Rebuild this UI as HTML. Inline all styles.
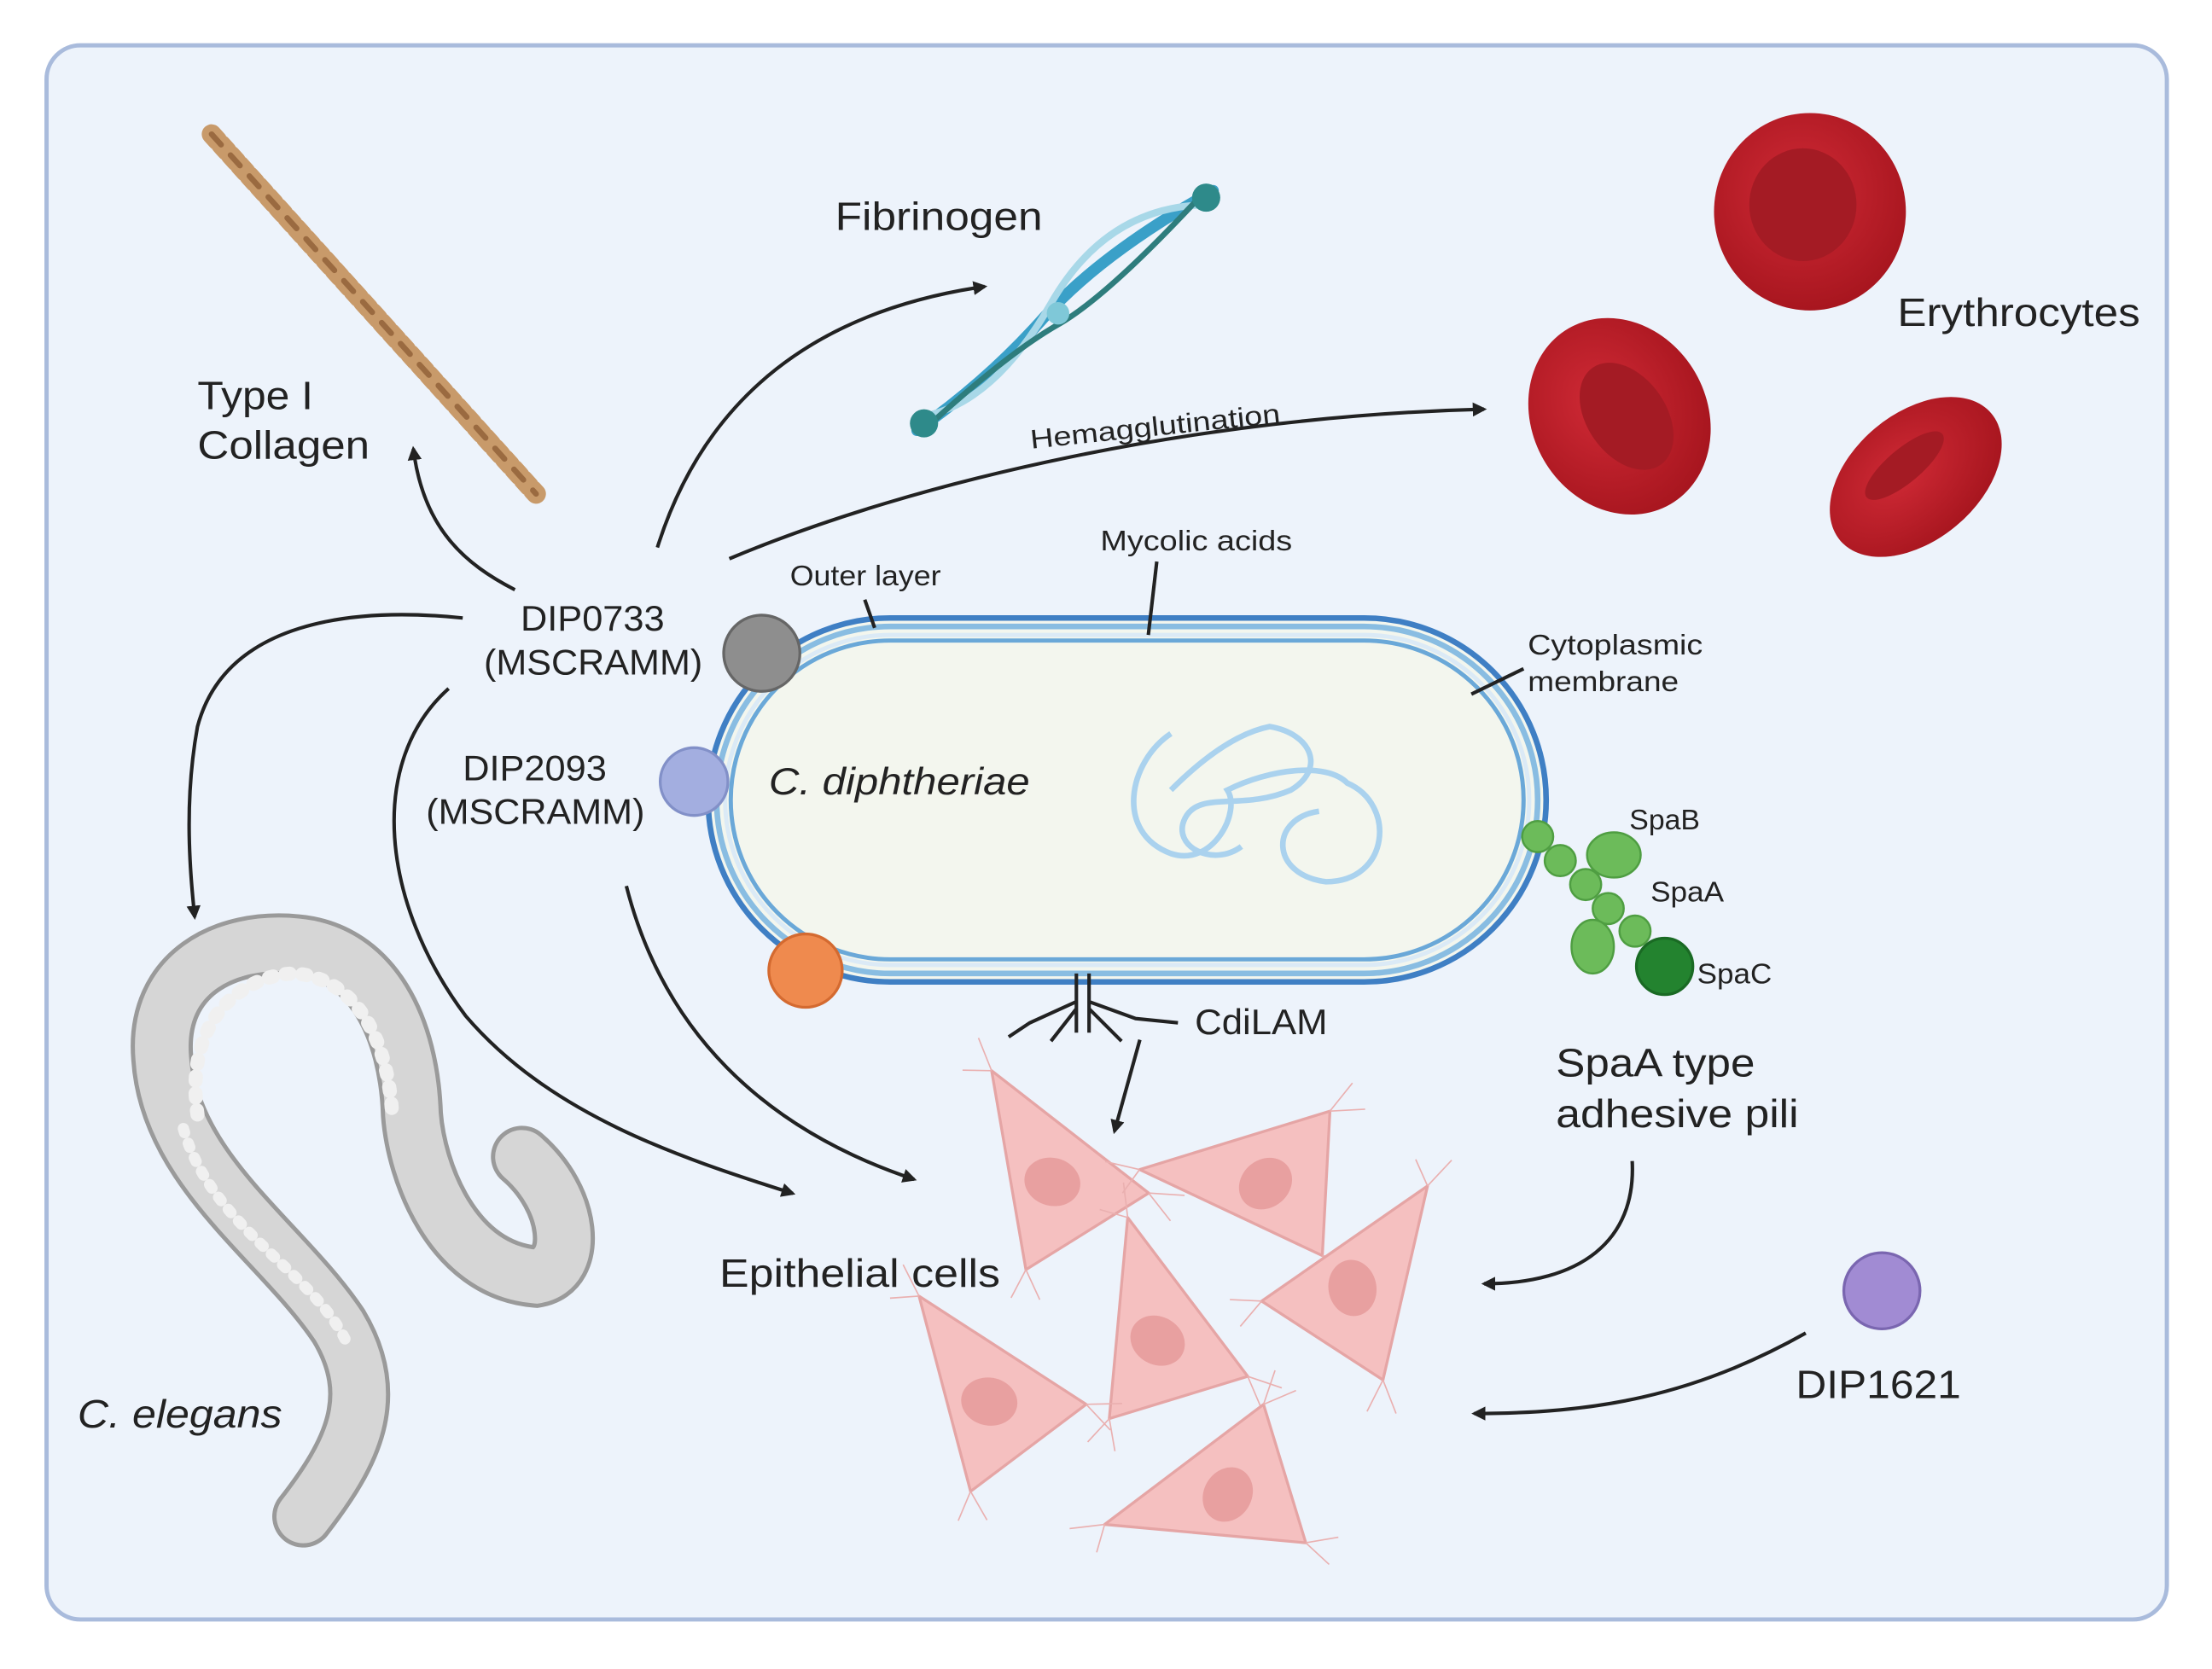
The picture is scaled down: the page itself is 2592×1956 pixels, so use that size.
<!DOCTYPE html>
<html><head><meta charset="utf-8"><style>
html,body{margin:0;padding:0;background:#fff;}
svg{display:block;}
text{font-family:"Liberation Sans",sans-serif;fill:#222;}
</style></head><body>
<svg width="2592" height="1956" viewBox="0 0 1568 1183" xmlns="http://www.w3.org/2000/svg">
<defs>
<marker id="ah" markerWidth="10" markerHeight="10" refX="8" refY="5" orient="auto" markerUnits="userSpaceOnUse" viewBox="0 0 10 10"><path d="M0,0 L10,5 L0,10 Z" fill="#222"/></marker>
<radialGradient id="rbc" cx="0.45" cy="0.4" r="0.6"><stop offset="0" stop-color="#d02a36"/><stop offset="1" stop-color="#a8161f"/></radialGradient>
<g id="cell">
<path d="M-70,-60 L60,-5 L-10,70 Z" fill="#f5c0c0" stroke="#e5a5a5" stroke-width="2" stroke-linejoin="round"/>
<ellipse cx="-8" cy="5" rx="20" ry="17" fill="#e8a0a0"/>
<g stroke="#eab0b0" stroke-width="1"><line x1="-70" y1="-60" x2="-85" y2="-80"/><line x1="-70" y1="-60" x2="-90" y2="-55"/><line x1="60" y1="-5" x2="85" y2="-10"/><line x1="60" y1="-5" x2="80" y2="10"/><line x1="-10" y1="70" x2="-15" y2="92"/><line x1="-10" y1="70" x2="5" y2="88"/></g>
</g>
</defs>
<rect x="33" y="32" width="1503" height="1116" rx="24" fill="#edf3fb" stroke="#a9bbdc" stroke-width="3"/>

<!-- collagen -->
<g fill="none" stroke-linecap="round">
<path d="M150,95 L380,350" stroke="#c89a6a" stroke-width="14" stroke-dasharray="6 4"/>
<path d="M150,95 L380,350" stroke="#9a6a40" stroke-width="4" stroke-dasharray="10 10"/>
</g>
<!-- fibrinogen -->
<g fill="none" stroke-linecap="round">
<path d="M650,305 Q700,270 740,225 T860,135" stroke="#3aa0c8" stroke-width="8"/>
<path d="M655,295 Q705,285 745,215 T858,145" stroke="#a8d8e8" stroke-width="5"/>
<path d="M660,300 Q715,250 750,230 T850,140" stroke="#2e7d7d" stroke-width="4"/>
</g>
<circle cx="655" cy="300" r="10" fill="#2e8a8a"/><circle cx="855" cy="140" r="10" fill="#2e8a8a"/><circle cx="750" cy="222" r="8" fill="#7fc8d8"/>
<!-- RBCs -->
<ellipse cx="1283" cy="150" rx="68" ry="70" fill="url(#rbc)"/><ellipse cx="1278" cy="145" rx="38" ry="40" fill="#a41b24"/>
<ellipse cx="1148" cy="295" rx="62" ry="72" fill="url(#rbc)" transform="rotate(-30 1148 295)"/><ellipse cx="1153" cy="295" rx="28" ry="42" fill="#a41b24" transform="rotate(-35 1153 295)"/>
<ellipse cx="1358" cy="338" rx="70" ry="45" fill="url(#rbc)" transform="rotate(-40 1358 338)"/><ellipse cx="1350" cy="330" rx="35" ry="12" fill="#a41b24" transform="rotate(-40 1350 330)"/>

<!-- worm -->
<g fill="none" stroke-linecap="round">
<path d="M215,1075 C250,1030 270,990 240,940 C200,880 120,830 115,750 C110,690 160,665 210,670 C265,675 290,730 292,790 C295,830 320,900 380,905 C410,900 405,850 370,820" stroke="#9a9a9a" stroke-width="44"/>
<path d="M215,1075 C250,1030 270,990 240,940 C200,880 120,830 115,750 C110,690 160,665 210,670 C265,675 290,730 292,790 C295,830 320,900 380,905 C410,900 405,850 370,820" stroke="#d6d6d6" stroke-width="38"/>
<path d="M140,790 C130,720 175,690 210,690 C255,695 275,740 278,790" stroke="#f0f0f0" stroke-width="10" stroke-dasharray="3 9"/>
<path d="M130,800 C150,870 220,900 245,950" stroke="#f0f0f0" stroke-width="8" stroke-dasharray="3 8"/>
</g>

<!-- bacterium -->
<rect x="502" y="438" width="594" height="258" rx="129" fill="#f3f6ee" stroke="#3f7fc4" stroke-width="4"/>
<rect x="508" y="444" width="582" height="246" rx="123" fill="none" stroke="#89bde2" stroke-width="4"/>
<rect x="514" y="450" width="570" height="234" rx="117" fill="none" stroke="#dbeaf6" stroke-width="3"/>
<rect x="518" y="454" width="562" height="226" rx="113" fill="none" stroke="#6aa8d8" stroke-width="3"/>
<g fill="none" stroke="#aad2ee" stroke-width="4">
<path d="M830,520 C800,540 790,590 830,605 C860,615 880,575 870,560 C900,545 940,540 955,555 C990,570 985,625 940,625 C900,620 900,580 935,575 M830,560 C850,540 875,520 900,515 C930,520 940,545 915,560 C880,575 850,560 840,580 C830,600 860,615 880,600"/>
</g>
<!-- pili -->
<g fill="#6cbb5a" stroke="#4f9e42" stroke-width="1.5">
<circle cx="1090" cy="593" r="11"/><circle cx="1106" cy="610" r="11"/><circle cx="1124" cy="627" r="11"/><circle cx="1140" cy="644" r="11"/><circle cx="1159" cy="660" r="11"/>
<ellipse cx="1144" cy="606" rx="19" ry="16"/><ellipse cx="1129" cy="671" rx="15" ry="19"/>
</g>
<circle cx="1180" cy="685" r="20" fill="#23832f" stroke="#1a6a24" stroke-width="2"/>
<circle cx="540" cy="463" r="27" fill="#8e8e8e" stroke="#666" stroke-width="2"/>
<circle cx="492" cy="554" r="24" fill="#a3aee0" stroke="#8290c8" stroke-width="2"/>
<circle cx="571" cy="688" r="26" fill="#ef8a4e" stroke="#d46a30" stroke-width="2"/>
<circle cx="1334" cy="915" r="27" fill="#a18bd3" stroke="#7a66b0" stroke-width="2"/>
<!-- CdiLAM -->
<g stroke="#222" stroke-width="2.5" fill="none">
<path d="M763,690 L763,732 M772,690 L772,732 M763,710 L730,725 L715,735 M763,715 L745,738 M772,710 L805,722 L835,725 M772,715 L795,738"/>
</g>
<!-- leader lines -->
<g stroke="#222" stroke-width="2.5"><line x1="613" y1="425" x2="620" y2="445"/><line x1="820" y1="398" x2="814" y2="450"/><line x1="1080" y1="474" x2="1043" y2="492"/></g>

<!-- cells -->
<use href="#cell" transform="translate(755,835) rotate(15)"/>
<use href="#cell" transform="translate(900,830) rotate(-40)"/>
<use href="#cell" transform="translate(830,950) rotate(30)"/>
<use href="#cell" transform="translate(965,920) rotate(80)"/>
<use href="#cell" transform="translate(710,990) rotate(10)"/>
<use href="#cell" transform="translate(870,1050) rotate(-60)"/>

<!-- arrows -->
<g stroke="#222" stroke-width="2.5" fill="none" marker-end="url(#ah)">
<path d="M365,418 C330,400 300,375 293,318"/>
<path d="M466,388 C500,280 580,220 698,203"/>
<path d="M517,396 C650,340 850,295 1052,290"/>
<path d="M328,438 C250,430 160,440 140,515 C130,570 135,620 138,650"/>
<path d="M318,488 C260,540 270,640 330,720 C390,790 480,820 562,846"/>
<path d="M444,628 C470,730 540,800 648,836"/>
<path d="M808,737 L790,802"/>
<path d="M1157,823 C1160,880 1120,910 1052,910"/>
<path d="M1280,945 C1200,990 1130,1002 1045,1002"/>
</g>

<!-- labels -->
<g lengthAdjust="spacingAndGlyphs">
<text x="592" y="163" font-size="28" textLength="147" lengthAdjust="spacingAndGlyphs">Fibrinogen</text>
<text x="1345" y="231" font-size="28" textLength="172" lengthAdjust="spacingAndGlyphs">Erythrocytes</text>
<text x="140" y="290" font-size="28" textLength="82" lengthAdjust="spacingAndGlyphs">Type I</text>
<text x="140" y="325" font-size="28" textLength="122" lengthAdjust="spacingAndGlyphs">Collagen</text>
<text x="731" y="318" font-size="19" transform="rotate(-6 731 318)" textLength="178" lengthAdjust="spacingAndGlyphs">Hemagglutination</text>
<text x="780" y="390" font-size="20" textLength="136" lengthAdjust="spacingAndGlyphs">Mycolic acids</text>
<text x="560" y="415" font-size="20" textLength="107" lengthAdjust="spacingAndGlyphs">Outer layer</text>
<text x="1083" y="464" font-size="20" textLength="124" lengthAdjust="spacingAndGlyphs">Cytoplasmic</text>
<text x="1083" y="490" font-size="20" textLength="107" lengthAdjust="spacingAndGlyphs">membrane</text>
<text x="369" y="447" font-size="25" textLength="102" lengthAdjust="spacingAndGlyphs">DIP0733</text>
<text x="343" y="478" font-size="25" textLength="155" lengthAdjust="spacingAndGlyphs">(MSCRAMM)</text>
<text x="328" y="553" font-size="25" textLength="102" lengthAdjust="spacingAndGlyphs">DIP2093</text>
<text x="302" y="584" font-size="25" textLength="155" lengthAdjust="spacingAndGlyphs">(MSCRAMM)</text>
<text x="545" y="563" font-size="27" font-style="italic" textLength="185" lengthAdjust="spacingAndGlyphs">C. diphtheriae</text>
<text x="1155" y="588" font-size="20" textLength="50" lengthAdjust="spacingAndGlyphs">SpaB</text>
<text x="1170" y="639" font-size="20" textLength="52" lengthAdjust="spacingAndGlyphs">SpaA</text>
<text x="1203" y="697" font-size="20" textLength="53" lengthAdjust="spacingAndGlyphs">SpaC</text>
<text x="847" y="733" font-size="25" textLength="94" lengthAdjust="spacingAndGlyphs">CdiLAM</text>
<text x="1103" y="763" font-size="28" textLength="141" lengthAdjust="spacingAndGlyphs">SpaA type</text>
<text x="1103" y="799" font-size="28" textLength="172" lengthAdjust="spacingAndGlyphs">adhesive pili</text>
<text x="510" y="912" font-size="28" textLength="199" lengthAdjust="spacingAndGlyphs">Epithelial cells</text>
<text x="1273" y="991" font-size="28" textLength="117" lengthAdjust="spacingAndGlyphs">DIP1621</text>
<text x="55" y="1012" font-size="28" font-style="italic" textLength="145" lengthAdjust="spacingAndGlyphs">C. elegans</text>
</g>
</svg>
</body></html>
